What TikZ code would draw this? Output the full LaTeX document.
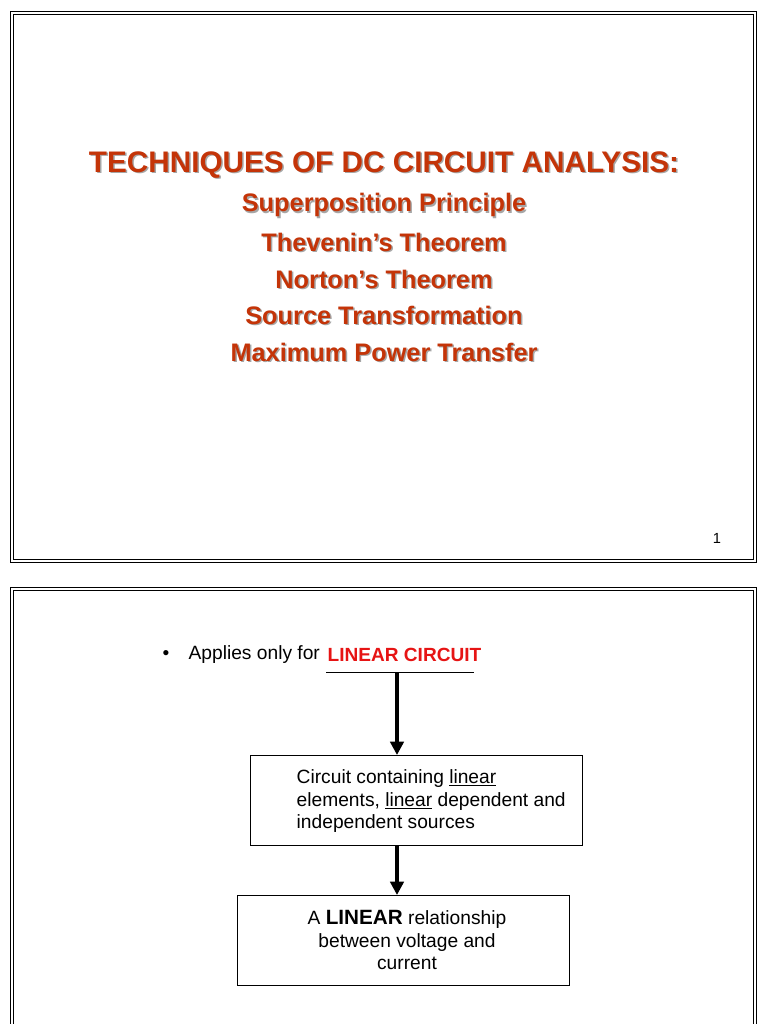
\documentclass[tikz,border=0pt]{standalone}
\usepackage{fontspec}
\setmainfont{Liberation Sans}
\usetikzlibrary{arrows.meta}
\definecolor{ttl}{RGB}{196,52,8}
\definecolor{lin}{RGB}{230,20,20}
\tikzset{
 frame/.style={draw=black,double=white,double distance=1.6pt,line width=0.8pt},
 ttltext/.style={text=ttl,anchor=center},
 shd/.style={text=black!35,anchor=center},
 box/.style={draw,line width=0.8pt},
 arr/.style={line width=2.8pt,-{Triangle[length=10pt,width=10pt]}},
 body/.style={font=\fontsize{14.4}{17}\selectfont}
}
\begin{document}
\begin{tikzpicture}[x=0.75pt,y=-0.75pt]
\useasboundingbox (0,0) rectangle (768,1024);
\draw[frame] (12,13) rectangle (755,561);
\draw[frame] (12,589) rectangle (755,1040);
\foreach \t/\yy/\s in {{TECHNIQUES OF DC CIRCUIT ANALYSIS:}/165/22.3,{Superposition Principle}/205/19,{Thevenin’s Theorem}/242/19,{Norton’s Theorem}/279/19,{Source Transformation}/315/19,{Maximum Power Transfer}/352/19}{
 \node[shd,font=\bfseries\fontsize{\s}{\s}\selectfont] at (385.5,\yy+1.5) {\t};
 \node[ttltext,font=\bfseries\fontsize{\s}{\s}\selectfont] at (384,\yy) {\t};
}
\node[font=\fontsize{11}{13}\selectfont] (pg) at (717,538) {1};
\node[body,anchor=west] (bul) at (158,655) {•\hspace{1.0em}Applies only for};
\node[body,anchor=west,text=lin,font=\bfseries\fontsize{14.3}{17}\selectfont] (lc) at (323,655) {LINEAR CIRCUIT};
\coordinate (ul) at (326,672);
\coordinate (ur) at (474,672);
\draw[line width=0.6pt] (ul) -- (ur);
\coordinate (a0) at (397,672);
\node[box,minimum width=332*0.75pt,minimum height=90*0.75pt,anchor=north west] (b1) at (250,755) {};
\node[body,anchor=north west,align=left] (t1) at (292,765) {Circuit containing \underline{linear}\\elements, \underline{linear} dependent and\\independent sources};
\node[box,minimum width=332*0.75pt,minimum height=90*0.75pt,anchor=north west] (b2) at (237,895) {};
\node[body,align=center] (t2) at (407,940) {A \textbf{\fontsize{15.5}{17}\selectfont LINEAR} relationship\\between voltage and\\current};
\draw[arr] (a0) -- (a0 |- b1.north);
\draw[arr] (a0 |- b1.south) -- (a0 |- b2.north);
\end{tikzpicture}
\end{document}
